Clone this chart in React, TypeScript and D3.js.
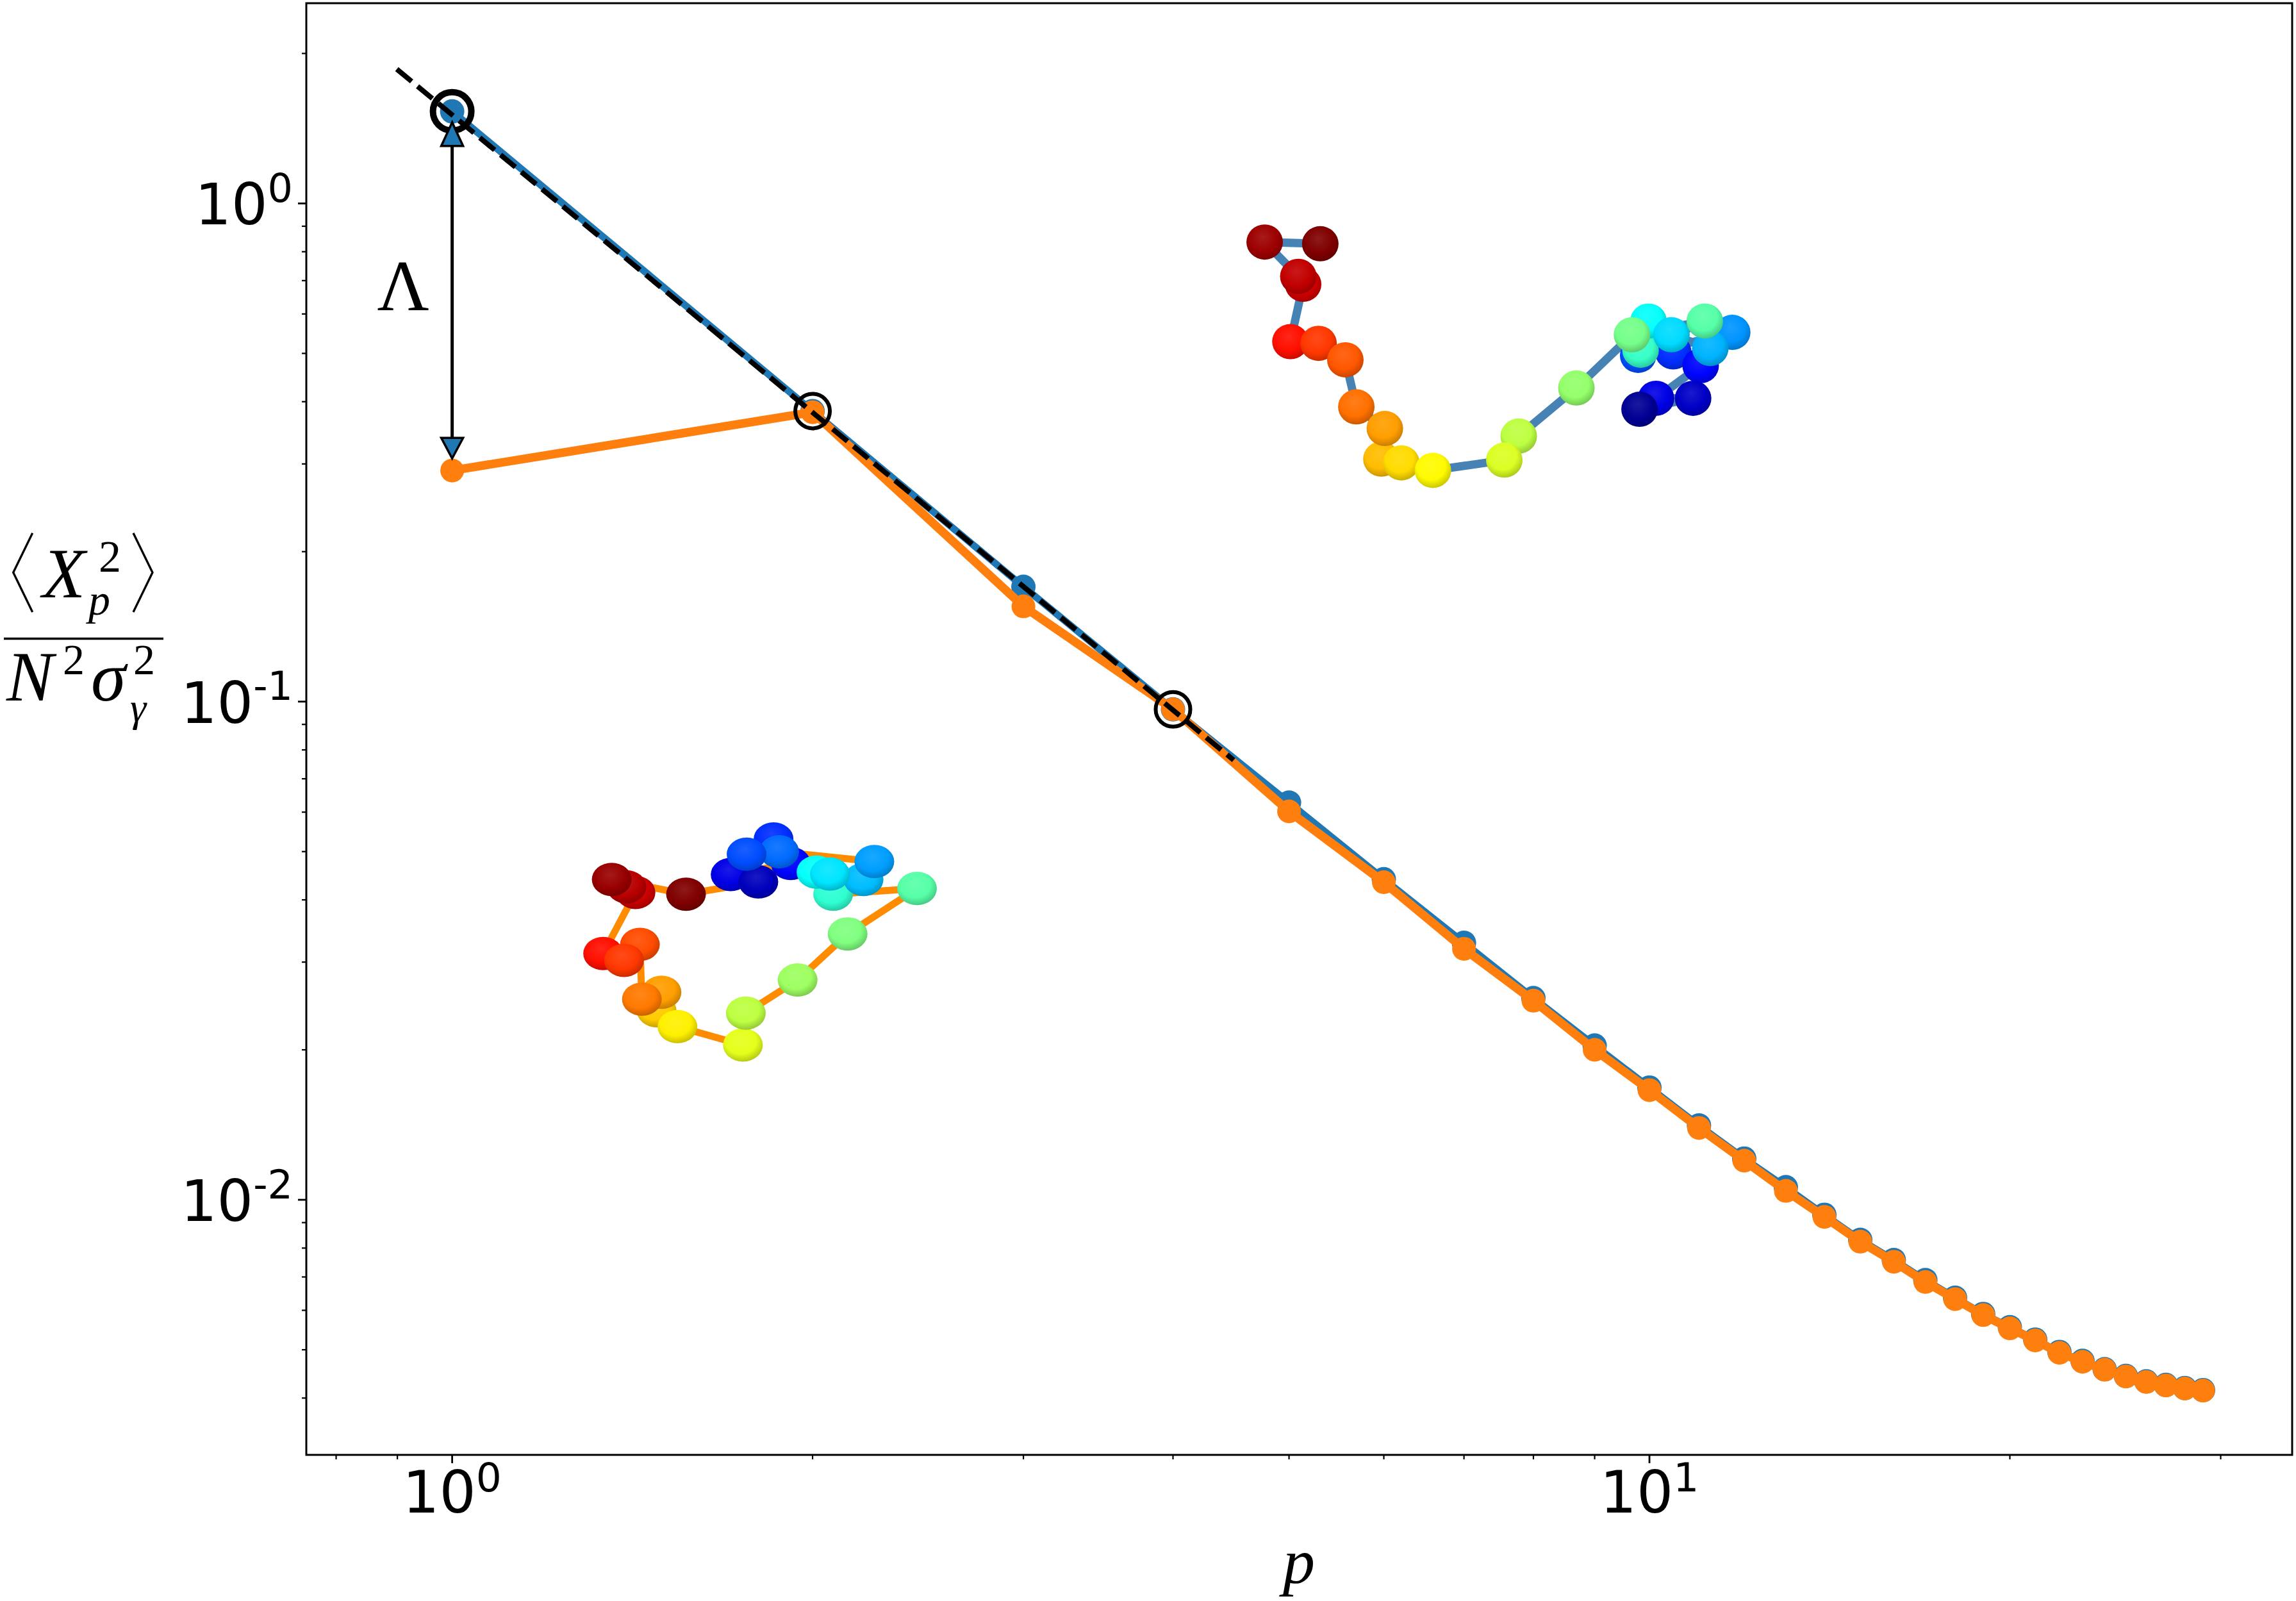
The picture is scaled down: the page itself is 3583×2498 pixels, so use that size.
import React from "react";
import * as d3 from "d3";

// ---------- data ----------
const P = [1, 2, 3, 4, 5, 6, 7, 8, 9, 10, 11, 12, 13, 14, 15, 16, 17, 18, 19, 20, 21, 22, 23, 24, 25, 26, 27, 28, 29];
const BLUE = [1.53, 0.383, 0.17, 0.0965, 0.0627, 0.044, 0.0328, 0.0254, 0.0204, 0.0168, 0.0141, 0.0121, 0.0106, 0.00933, 0.00831, 0.00757, 0.0069, 0.00636, 0.0059, 0.00555, 0.00524, 0.00495, 0.00475, 0.00457, 0.00443, 0.00432, 0.00425, 0.00419, 0.00415];
const ORANGE = [0.291, 0.381, 0.1553, 0.0965, 0.0602, 0.0434, 0.0319, 0.0251, 0.02, 0.0166, 0.01394, 0.01198, 0.01042, 0.00924, 0.00824, 0.00751, 0.00684, 0.00632, 0.00587, 0.00552, 0.00522, 0.00493, 0.00473, 0.00456, 0.00442, 0.00431, 0.00424, 0.00418, 0.00414];
const FIT_LINE: [number, number][] = [[0.899, 1.86], [4.495, 0.0763]];
const CIRCLED_P = [1, 2, 4];
const ARROW_P = 1;
const ARROW_TOP = 1.455;
const ARROW_BOTTOM = 0.3077;
const X_LABELS = [{ v: 1, exp: "0" }, { v: 10, exp: "1" }];
const Y_LABELS = [{ v: 1, exp: "0" }, { v: 0.1, exp: "-1" }, { v: 0.01, exp: "-2" }];

// inset bead chains: [x, y, jet t, depth] in the inset picture's own pixel frame
const UPPER_BEADS: number[][] = [
  [262, 430, 1.0, 5], [100, 425, 0.97, 5], [198, 525, 0.935, 6], [212, 548, 0.92, 4],
  [175, 715, 0.86, 4], [257, 720, 0.82, 5], [335, 768, 0.79, 6], [367, 905, 0.765, 5],
  [450, 968, 0.72, 5], [440, 1057, 0.69, 4], [498, 1068, 0.66, 5], [590, 1090, 0.63, 6],
  [798, 1060, 0.59, 6], [840, 990, 0.56, 5], [1008, 850, 0.52, 5], [1170, 695, 0.49, 9],
  [1382, 655, 0.46, 9], [1195, 740, 0.43, 6], [1218, 655, 0.38, 6], [1285, 695, 0.34, 8],
  [1398, 735, 0.3, 7], [1462, 688, 0.27, 6], [1188, 755, 0.2, 3], [1290, 745, 0.17, 4],
  [1370, 785, 0.13, 5], [1240, 880, 0.1, 5], [1348, 880, 0.07, 5], [1192, 912, 0.02, 6],
];
const LOWER_BEADS: number[][] = [
  [498, 510, 1.0, 5], [195, 450, 0.975, 7], [255, 480, 0.945, 6], [292, 503, 0.925, 5],
  [160, 752, 0.86, 5], [245, 780, 0.82, 7], [310, 715, 0.8, 6], [318, 938, 0.755, 7],
  [398, 910, 0.72, 6], [378, 985, 0.675, 5], [463, 1050, 0.64, 8], [730, 1125, 0.6, 5],
  [742, 995, 0.56, 6], [953, 860, 0.53, 5], [1157, 672, 0.5, 5], [1440, 487, 0.46, 5],
  [1098, 510, 0.42, 4], [1030, 420, 0.38, 5], [1085, 428, 0.35, 7], [1222, 450, 0.31, 5],
  [1266, 377, 0.28, 7], [878, 337, 0.23, 6], [745, 347, 0.2, 7], [855, 285, 0.17, 3],
  [925, 385, 0.13, 3], [680, 430, 0.1, 4], [793, 460, 0.06, 5],
];

// ---------- helpers ----------
const W = 3583;
const H = 2498;
const L = 478, R = 3577, T = 5, B = 2270;
const BLUE_C = "#1f77b4";
const ORANGE_C = "#ff7f0e";
const sans = "'DejaVu Sans', Verdana, sans-serif";
const serif = "'Liberation Serif', 'DejaVu Serif', serif";

function jet(t: number) {
  const c = (v: number) => Math.max(0, Math.min(1, v));
  return d3.rgb(255 * c(1.5 - Math.abs(4 * t - 3)), 255 * c(1.5 - Math.abs(4 * t - 2)), 255 * c(1.5 - Math.abs(4 * t - 1)));
}

type InsetProps = {
  id: string;
  beads: number[][];
  xr: [number, number];
  yr: [number, number];
  rx: number;
  ry: number;
  lineColor: string;
  lineWidth: number;
  closed: boolean;
};

function Inset({ id, beads, xr, yr, rx, ry, lineColor, lineWidth, closed }: InsetProps) {
  const sx = d3.scaleLinear().domain([0, 1568]).range(xr);
  const sy = d3.scaleLinear().domain([0, 1568]).range(yr);
  const line = d3.line<number[]>().x((d) => sx(d[0])).y((d) => sy(d[1]));
  const pts = closed ? [...beads, beads[0]] : beads;
  const order = beads.map((b, i) => ({ b, i })).sort((a, c) => a.b[3] - c.b[3] || a.i - c.i);
  return (
    <g>
      <defs>
        {beads.map((b, i) => {
          const col = jet(b[2]);
          const light = d3.interpolateRgb(col.formatRgb(), "#ffffff")(0.1);
          const dark = d3.interpolateRgb(col.formatRgb(), "#000000")(0.25);
          return (
            <radialGradient key={i} id={`${id}-g${i}`} cx="0.45" cy="0.4" r="0.65" fx="0.45" fy="0.35">
              <stop offset="0" stopColor={light} />
              <stop offset="0.6" stopColor={col.formatRgb()} />
              <stop offset="1" stopColor={dark} />
            </radialGradient>
          );
        })}
      </defs>
      <path d={line(pts) || ""} fill="none" stroke={lineColor} strokeWidth={lineWidth} strokeLinejoin="round" />
      {order.map(({ b, i }) => (
        <ellipse key={i} cx={sx(b[0])} cy={sy(b[1])} rx={rx} ry={ry} fill={`url(#${id}-g${i})`} />
      ))}
    </g>
  );
}

export default function App() {
  const x = d3.scaleLog().domain([0.7554, 34.42]).range([L, R]);
  const y = d3.scaleLog().domain([2.523, 0.003076]).range([T, B]);
  const isMajor = (v: number) => Math.abs(Math.log10(v) - Math.round(Math.log10(v))) < 1e-9;
  const xt = x.ticks();
  const yt = y.ticks();

  const line = d3.line<[number, number]>().x((d) => x(d[0])).y((d) => y(d[1]));
  const blueData: [number, number][] = P.map((p, i) => [p, BLUE[i]]);
  const orangeData: [number, number][] = P.map((p, i) => [p, ORANGE[i]]);

  const ax = x(ARROW_P);
  const aTop = y(ARROW_TOP);
  const aBot = y(ARROW_BOTTOM);
  const ah = 37, aw = 17;

  return (
    <svg width={W} height={H} viewBox={`0 0 ${W} ${H}`} style={{ position: "absolute", left: 0, top: 0, background: "#fff" }}>
      <rect x={0} y={0} width={W} height={H} fill="#fff" />

      {/* insets */}
      <Inset id="up" beads={UPPER_BEADS} xr={[1920, 2760]} yr={[150, 990]} rx={28.5} ry={27.5} lineColor="#4682b4" lineWidth={13} closed={false} />
      <Inset id="lo" beads={LOWER_BEADS} xr={[880, 1480]} yr={[1200, 1800]} rx={31} ry={26} lineColor="#ff8c00" lineWidth={11} closed={true} />

      {/* series */}
      <path d={line(blueData) || ""} fill="none" stroke={BLUE_C} strokeWidth={11} strokeLinejoin="round" />
      {blueData.map((d, i) => (
        <circle key={`b${i}`} cx={x(d[0])} cy={y(d[1])} r={19} fill={BLUE_C} />
      ))}
      <path d={line(orangeData) || ""} fill="none" stroke={ORANGE_C} strokeWidth={13.5} strokeLinejoin="round" />
      {orangeData.map((d, i) => (
        <circle key={`o${i}`} cx={x(d[0])} cy={y(d[1])} r={18.5} fill={ORANGE_C} />
      ))}

      {/* power-law guide */}
      <path d={line(FIT_LINE) || ""} fill="none" stroke="#000" strokeWidth={8} strokeDasharray="30 12" />

      {/* highlighted modes */}
      {CIRCLED_P.map((p, i) => (
        <circle key={`c${p}`} cx={x(p)} cy={y(BLUE[P.indexOf(p)])} r={i === 0 ? 30 : 27} fill="none" stroke="#000" strokeWidth={i === 0 ? 10 : 6} />
      ))}

      {/* Lambda arrow */}
      <line x1={ax} x2={ax} y1={aTop + ah} y2={aBot - ah + 4} stroke="#000" strokeWidth={5} />
      <path d={`M${ax},${aTop} L${ax + aw},${aTop + ah} L${ax - aw},${aTop + ah} Z`} fill={BLUE_C} stroke="#000" strokeWidth={3.5} strokeLinejoin="miter" />
      <path d={`M${ax},${aBot} L${ax + aw},${aBot - ah + 5} L${ax - aw},${aBot - ah + 5} Z`} fill={BLUE_C} stroke="#000" strokeWidth={3.5} strokeLinejoin="miter" />
      <text x={629} y={484} fontFamily={serif} fontSize={112} textAnchor="middle">Λ</text>

      {/* frame */}
      <rect x={L} y={T} width={R - L} height={B - T} fill="none" stroke="#000" strokeWidth={3} />

      {/* ticks */}
      {xt.map((v, i) => {
        const m = isMajor(v);
        return <line key={`xt${i}`} x1={x(v)} x2={x(v)} y1={B} y2={B + (m ? 13 : 7)} stroke="#000" strokeWidth={m ? 2.8 : 2.2} />;
      })}
      {yt.map((v, i) => {
        const m = isMajor(v);
        return <line key={`yt${i}`} x1={L} x2={L - (m ? 13 : 7)} y1={y(v)} y2={y(v)} stroke="#000" strokeWidth={m ? 2.8 : 2.2} />;
      })}

      {/* tick labels */}
      {X_LABELS.map((d) => (
        <text key={`xl${d.v}`} x={x(d.v)} y={B + 90} fontFamily={sans} fontSize={90} textAnchor="middle">
          <tspan>10</tspan>
          <tspan dy={-33} fontSize={63}>{d.exp}</tspan>
        </text>
      ))}
      {Y_LABELS.map((d) => (
        <text key={`yl${d.v}`} x={457} y={y(d.v) + 33} fontFamily={sans} fontSize={89} textAnchor="end">
          <tspan>10</tspan>
          <tspan dy={-35.5} fontSize={62}>{d.exp}</tspan>
        </text>
      ))}

      {/* x label */}
      <text x={2027} y={2470} fontFamily={serif} fontStyle="italic" fontSize={100} textAnchor="middle">p</text>

      {/* y label: <X_p^2> / (N^2 sigma_gamma^2) */}
      <g fontFamily={serif} fill="#000">
        <polyline points="50.7,831.7 20.7,893.3 50.7,955" fill="none" stroke="#000" strokeWidth={3.3} />
        <polyline points="208,831.7 238,893.3 208,955" fill="none" stroke="#000" strokeWidth={3.3} />
        <line x1={6} x2={255} y1={996.5} y2={996.5} stroke="#000" strokeWidth={3.3} />
        <text>
          <tspan x={66} y={932} fontStyle="italic" fontSize={110}>X</tspan>
          <tspan x={154} y={892} fontSize={70}>2</tspan>
          <tspan x={138} y={959} fontStyle="italic" fontSize={68}>p</tspan>
        </text>
        <text>
          <tspan x={10} y={1093} fontStyle="italic" fontSize={110}>N</tspan>
          <tspan x={98} y={1052} fontSize={68}>2</tspan>
          <tspan x={142} y={1093} fontStyle="italic" fontSize={110}>σ</tspan>
          <tspan x={208} y={1052} fontSize={68}>2</tspan>
        </text>
        <text x={203} y={1125} fontStyle="italic" fontSize={64}>γ</text>
      </g>
    </svg>
  );
}
